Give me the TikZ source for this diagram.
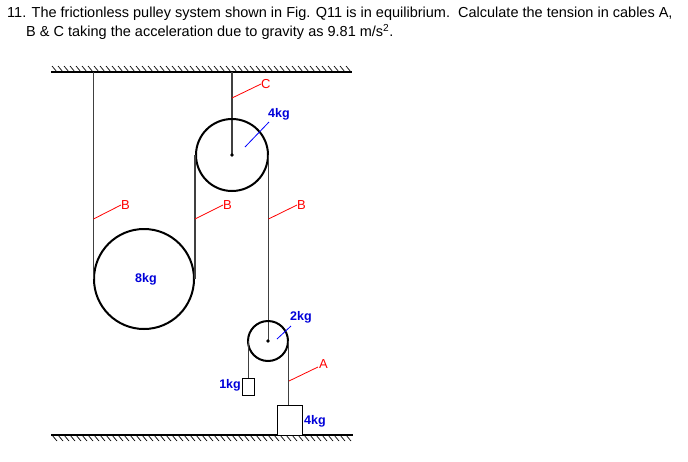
\documentclass[tikz,border=0pt]{standalone}
\usepackage{fontspec}
\setmainfont{Liberation Sans}
\begin{document}
\begin{tikzpicture}[x=1pt,y=-1pt,
  rope/.style={draw=black!75,line width=1.4pt},
  pulley/.style={draw=black,line width=2pt},
  lead/.style={draw=red,line width=0.8pt},
  blead/.style={draw=blue,line width=0.8pt},
  rlab/.style={text=red,font=\fontsize{13}{14}\selectfont,inner sep=0pt},
  mlab/.style={text=blue!85!black,font=\bfseries\fontsize{12.5}{14}\selectfont,inner sep=0pt},
  box/.style={draw=black,line width=1.1pt,fill=white}]
\useasboundingbox (0,0) rectangle (688,461);
% title
\node[anchor=west,inner sep=0pt,font=\fontsize{14.5}{16}\selectfont] (t1) at (7,14) {11. The frictionless pulley system shown in Fig. Q11 is in equilibrium.\ \ Calculate the tension in cables A,};
\node[anchor=west,inner sep=0pt,font=\fontsize{14.5}{16}\selectfont] (t2) at (26,32) {B \& C taking the acceleration due to gravity as 9.81 m/s\textsuperscript{2}.};
% ceiling and floor
\draw[line width=1.3pt] (51,72) -- (352,72);
\foreach \x in {52,58,...,350} \draw[line width=0.7pt] (\x,66) -- (\x+5,72);
\draw[line width=1.3pt] (51,435) -- (353,435);
\foreach \x in {52,58,...,350} \draw[line width=0.7pt] (\x,435) -- (\x+5,441);
% pulleys
\coordinate (top) at (232,155);
\coordinate (big) at (144,279);
\coordinate (small) at (268,341);
\draw[rope] (232,72) -- (top);
\draw[pulley] (top) circle (36);
\fill (top) circle (1.8);
\draw[pulley] (big) circle (50);
\draw[rope] (93.5,72) -- (93.5,279);
\draw[rope] (195,155) -- (195,279);
\draw[rope] (268.5,155) -- (268.5,341);
\draw[pulley] (small) circle (20);
\fill (small) circle (1.8);
\draw[rope] (248.5,341) -- (248.5,378);
\draw[rope] (288.5,341) -- (288.5,405);
\node[box,minimum width=12,minimum height=17,inner sep=0pt,anchor=north west] (m1) at (242,378) {};
\node[box,minimum width=25,minimum height=30,inner sep=0pt,anchor=north west] (m4) at (277,405) {};
% labels
\draw[lead] (232,98) -- (261,84); \node[rlab,anchor=west] (lc) at (261,84) {C};
\draw[lead] (93.5,219) -- (121,205); \node[rlab,anchor=west] (lb1) at (121,205) {B};
\draw[lead] (195,219) -- (223,205); \node[rlab,anchor=west] (lb2) at (223,205) {B};
\draw[lead] (268.5,219) -- (297,205); \node[rlab,anchor=west] (lb3) at (297,205) {B};
\draw[lead] (289,381) -- (318,367); \node[rlab,anchor=west] (la) at (319,364) {A};
\draw[blead] (245,147) -- (269,122); \node[mlab,anchor=west] (l4a) at (268,114) {4kg};
\draw[blead] (277,339) -- (291,326); \node[mlab,anchor=west] (l2) at (290,317) {2kg};
\node[mlab] (l8) at (146,279) {8kg};
\node[mlab,anchor=east] (l1) at (241,385) {1kg};
\node[mlab,anchor=west] (l4b) at (304,421) {4kg};
\end{tikzpicture}
\end{document}
